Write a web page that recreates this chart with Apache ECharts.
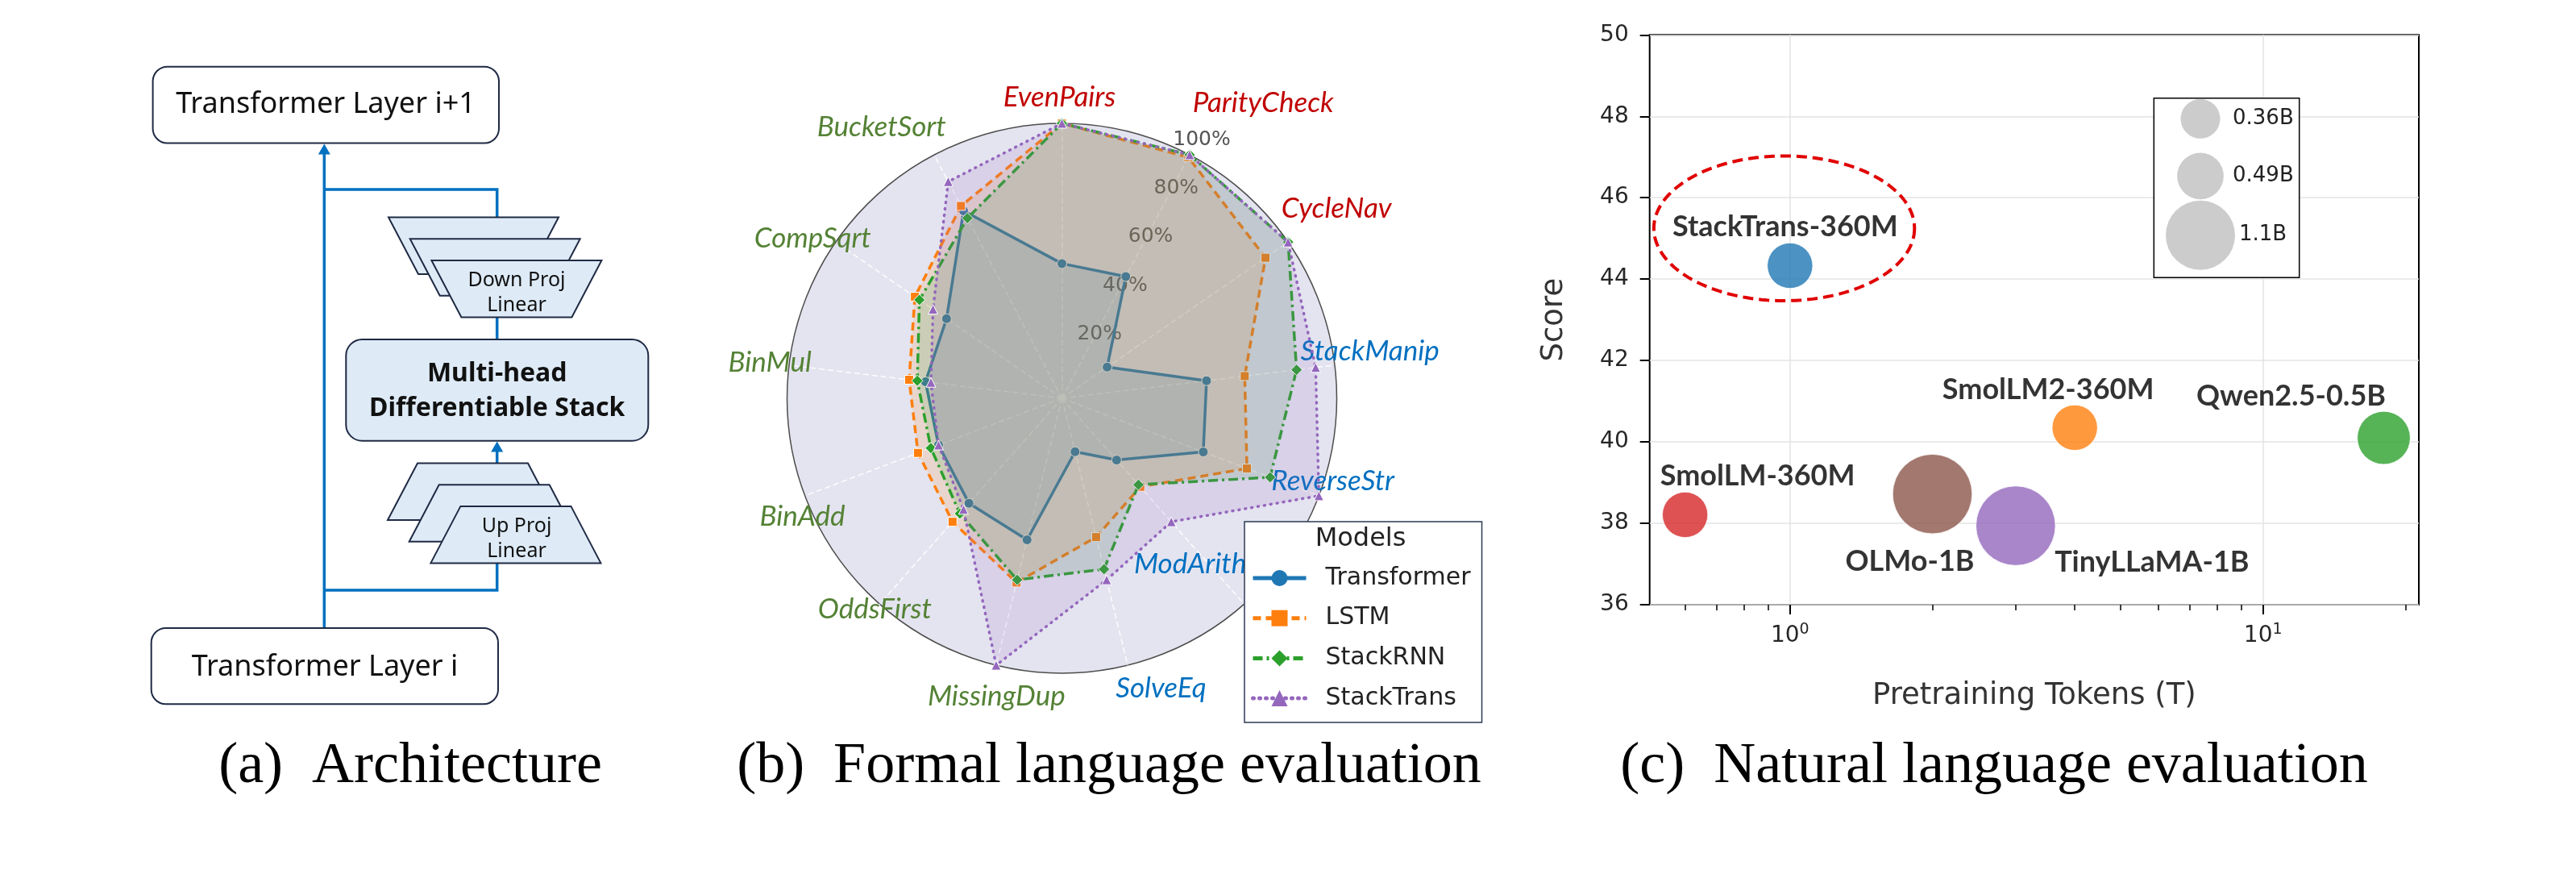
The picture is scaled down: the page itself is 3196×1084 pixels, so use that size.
<!DOCTYPE html>
<html><head><meta charset="utf-8">
<script src="https://cdn.jsdelivr.net/npm/echarts@6/dist/echarts.min.js"></script>
<style>html,body{margin:0;padding:0;background:#fff}#c{width:3196px;height:1084px}</style>
</head><body><div id="c"></div>
<script>
// ---------- Panel (b): formal language radar data ----------
const tasks = ['EvenPairs','ParityCheck','CycleNav','StackManip','ReverseStr','ModArith','SolveEq','MissingDup','OddsFirst','BinAdd','BinMul','CompSqrt','BucketSort'];
const taskGroup = ['r','r','r','b','b','b','b','g','g','g','g','g','g'];
const transformerAcc = [49, 50, 20, 53, 55, 30, 20, 53, 51, 48, 50, 51, 77];
const lstmAcc        = [100, 99, 90, 67, 72, 43, 52, 69, 60, 56, 56, 65, 79];
const stackRnnAcc    = [100, 100, 100, 86, 81, 42, 64, 68, 56, 51, 53, 63, 74];
const stackTransAcc  = [100, 100, 100, 93, 100, 60, 68, 100, 54, 48, 48, 57, 89];
const modelNames = ['Transformer','LSTM','StackRNN','StackTrans'];

// ---------- Panel (c): natural language bubble data ----------
const lmNames  = ['StackTrans-360M','SmolLM-360M','SmolLM2-360M','Qwen2.5-0.5B','OLMo-1B','TinyLLaMA-1B'];
const lmTokens = [1, 0.6, 4, 18, 2, 3];
const lmScores = [44.33, 38.21, 40.35, 40.1, 38.72, 37.94];
const lmParams = [0.36, 0.36, 0.36, 0.49, 1.1, 1.1];
const sizeLegendNames = ['0.36B','0.49B','1.1B'];
const sizeLegendParams = [0.36, 0.49, 1.1];
const xMajorTicks = [1, 10];
const xMinorTicks = [0.6, 0.7, 0.8, 0.9, 2, 3, 4, 5, 6, 7, 8, 9, 20];

// ---------- styles ----------
const groupColor = {r:'#c00000', b:'#0070c0', g:'#548235'};
const modelStyle = [
  {color:'#1f77b4', symbol:'circle',   size:12, dash:'solid', cap:'butt'},
  {color:'#ff7f0e', symbol:'rect',     size:11, dash:[10,6],  cap:'butt'},
  {color:'#2ca02c', symbol:'diamond',  size:14, dash:[12,5,3,5], cap:'butt'},
  {color:'#9467bd', symbol:'triangle', size:12, dash:[1,7],   cap:'round'}
];
// name placement (gap beyond circle, pixel shift) per task
const nameGap   = [32, 92, 73, 46, 10, -80, 39, 40, 9, 13, 24, 25, 63];
const nameShift = [[-3,0],[44,26],[0,0],[-2,-12],[8,-22],[-14,10],[32,-9],[10,2],[0,0],[9,21],[0,0],[-8,10],[-36,21]];
const lmColors = ['#1f77b4','#d62728','#ff7f0e','#2ca02c','#8c564b','#9467bd'];
const lmLabelOffset = [[-6,-48],[90,-48],[-33,-47],[-115,-52],[-28,84],[169,45]];
const bubbleK = 94;

const RC = [1317.5, 494], RR = 341;
// ECharts radar goes counter-clockwise; reference goes clockwise
const order = [0].concat(tasks.map((_, i) => i).slice(1).reverse());
const reorder = arr => order.map(i => arr[i]);

function nameStyleFor(s) {
  const [sx, sy] = s;
  const st = {align:'center', verticalAlign:'middle',
    padding: [0, sx < 0 ? -2*sx : 0, 0, sx > 0 ? 2*sx : 0]};
  if (sy > 2) { st.verticalAlign = 'top'; st.lineHeight = 2*sy; }
  else if (sy < -2) { st.verticalAlign = 'bottom'; st.lineHeight = -2*sy; }
  return st;
}

const indicatorsMain = order.map(i => {
  const ind = {
    name: tasks[i], min: 0, max: 100, color: groupColor[taskGroup[i]],
    nameGap: nameGap[i],
    nameTextStyle: nameStyleFor(nameShift[i])
  };
  if (tasks[i] === 'ParityCheck') {
    ind.axisLabel = {show: true, color:'#555', fontSize: 25, fontFamily:'DejaVu Sans', margin: 0,
      align:'center', verticalAlign:'bottom', lineHeight: 38, padding:[0,0,0,30],
      formatter: v => (v === 0 ? '' : v + '%')};
  }
  return ind;
});
const indicatorsBg = order.map(i => ({name: tasks[i], min: 0, max: 100}));

const accArrays = [transformerAcc, lstmAcc, stackRnnAcc, stackTransAcc];
const radarSeries = modelNames.map((n, k) => ({
  type:'radar', radarIndex: 1, name: n + ' (radar)', z: 3 + k,
  symbol: modelStyle[k].symbol, symbolSize: modelStyle[k].size,
  itemStyle: {color: modelStyle[k].color, borderColor:'#fff', borderWidth: 1},
  lineStyle: {color: modelStyle[k].color, width: 3.5, type: modelStyle[k].dash, cap: modelStyle[k].cap},
  areaStyle: {color: modelStyle[k].color, opacity: 0.15},
  data: [{name: n, value: reorder(accArrays[k])}]
}));
const legendLineSeries = modelNames.map((n, k) => ({
  type:'line', name: n, xAxisIndex: 2, yAxisIndex: 1, data: [],
  symbol: modelStyle[k].symbol, itemStyle: {color: modelStyle[k].color},
  lineStyle: {color: modelStyle[k].color, width: 5, type: modelStyle[k].dash, cap: modelStyle[k].cap}
}));

// ---------- panel (a) diagram graphics ----------
const NAVY = '#1f2a44', FILL = '#deebf7', BLUE = '#0070c0';
const g = [];
function rect(x, y, w, h, r, fill) { g.push({type:'rect', shape:{x, y, width:w, height:h, r}, style:{fill, stroke:NAVY, lineWidth:2}, z: 1}); }
function txt(t, x, y, size, bold) { g.push({type:'text', x, y, style:{text:t, fontSize:size, fontFamily:'Noto Sans', fontWeight: bold ? 'bold':'normal', fill:'#111', align:'center', verticalAlign:'middle'}, z: 3}); }
function wire(pts) { g.push({type:'polyline', shape:{points:pts}, style:{stroke:BLUE, lineWidth:3.5, fill:null}, z: 1}); }
function arrowUp(x, tipY) { g.push({type:'polygon', shape:{points:[[x-7.5, tipY+13],[x+7.5, tipY+13],[x, tipY]]}, style:{fill:BLUE}, z: 2}); }
function trapDown(x, y) { g.push({type:'polygon', shape:{points:[[x,y],[x+211,y],[x+174,y+70.5],[x+37,y+70.5]]}, style:{fill:FILL, stroke:NAVY, lineWidth:2}, z: 2}); }
function trapUp(x, y) { g.push({type:'polygon', shape:{points:[[x+37,y],[x+174,y],[x+211,y+70.5],[x,y+70.5]]}, style:{fill:FILL, stroke:NAVY, lineWidth:2}, z: 2}); }

wire([[402.3, 779],[402.3, 190]]); arrowUp(402.3, 178.5);
wire([[402.3, 235],[616.7, 235],[616.7, 270]]);
wire([[616.7, 393],[616.7, 421]]);
wire([[616.7, 575],[616.7, 559]]); arrowUp(616.7, 547.5);
wire([[616.7, 698],[616.7, 732],[402.3, 732]]);
rect(189.6, 82.7, 429.4, 94.8, 18, '#fff');
rect(187.7, 779, 430.3, 94.3, 18, '#fff');
txt('Transformer Layer i+1', 404, 130, 36, false);
txt('Transformer Layer i', 403, 828, 36, false);
trapDown(482, 269.5); trapDown(508.7, 296.2); trapDown(535.4, 322.9);
txt('Down Proj', 641, 348, 25, false); txt('Linear', 641, 379, 25, false);
rect(429.3, 421, 375, 125.7, 20, FILL);
txt('Multi-head', 616.7, 464, 32, true); txt('Differentiable Stack', 616.7, 507, 32, true);
trapUp(481, 574.5); trapUp(507.7, 601.2); trapUp(534.4, 627.9);
txt('Up Proj', 641, 653, 25, false); txt('Linear', 641, 684, 25, false);

// captions
[['(a)  Architecture', 509], ['(b)  Formal language evaluation', 1376], ['(c)  Natural language evaluation', 2474]].forEach(c => {
  g.push({type:'text', x:c[1], y:951, style:{text:c[0], fontSize:72, fontFamily:'Liberation Serif', fill:'#000', align:'center', verticalAlign:'middle'}, z: 3});
});
// radar legend title
g.push({type:'text', x:1688, y:669, style:{text:'Models', fontSize:32, fontFamily:'DejaVu Sans', fill:'#222', align:'center', verticalAlign:'middle'}, z: 20});
// bubble size legend frame
g.push({type:'rect', shape:{x:2672.3, y:121.7, width:180.4, height:222.6}, style:{fill:'#fff', stroke:'#000', lineWidth:1.5}, z: 3});
// red dashed highlight ellipse
const ell = [];
for (let k = 0; k < 144; k++) { const t = k / 144 * 2 * Math.PI; ell.push([2213.6 + 161.7*Math.cos(t), 283.2 + 89.8*Math.sin(t)]); }
g.push({type:'polygon', shape:{points: ell}, style:{fill:null, stroke:'#e00000', lineWidth:4, lineDash:[13,7]}, z: 6});

// ---------- bubble legends ----------
const legendCircleD = [49, 57.7, 86], legendCircleY = [147.3, 218.3, 291.7];
const sizeLegends = sizeLegendNames.map((n, i) => ({
  data: [n], left: 2730 - legendCircleD[i]/2, top: legendCircleY[i] - legendCircleD[i]/2, padding: 0,
  itemWidth: legendCircleD[i], itemHeight: legendCircleD[i], icon: 'circle', selectedMode: false, z: 5,
  textStyle: {fontSize: 26, fontFamily:'DejaVu Sans', color:'#222', padding:[0,0,0, Math.max(0, 40 - legendCircleD[i]/2 - 5)]}
}));
const sizeLegendSeries = sizeLegendNames.map((n, i) => ({type:'scatter', name:n, xAxisIndex:0, yAxisIndex:0, data:[], symbol:'circle', itemStyle:{color:'#bfbfbf'}}));

const supRich = {b:{fontSize:28, fontFamily:'DejaVu Sans', color:'#262626'}, s:{fontSize:19, fontFamily:'DejaVu Sans', color:'#262626', padding:[0,0,14,0]}};

const option = {
  animation: false,
  backgroundColor: '#fff',
  graphic: {elements: g},
  radar: [
    {center: RC, radius: RR, startAngle: 90, shape:'circle', splitNumber: 1, indicator: indicatorsBg,
     axisName: {show: false}, axisLine: {show: false}, axisTick: {show: false}, axisLabel: {show: false},
     splitLine: {show: true, lineStyle: {color: '#4d4d4d', width: 1.5}},
     splitArea: {show: true, areaStyle: {color: ['#e4e4f0']}}},
    {center: RC, radius: RR, startAngle: 90, shape:'circle', splitNumber: 5, indicator: indicatorsMain,
     axisName: {show: true, fontFamily:'Lato', fontStyle:'italic', fontSize: 35},
     axisLine: {show: true, lineStyle: {color:'rgba(255,255,255,0.9)', width: 1.5, type: [6,5]}},
     axisTick: {show: false}, axisLabel: {show: false},
     splitLine: {show: false}, splitArea: {show: false}}
  ],
  legend: [{
    data: modelNames, orient:'vertical', left: 1544, top: 647, itemWidth: 66, itemHeight: 25, itemGap: 19.7,
    padding: [55, 14, 15, 8], backgroundColor:'#fff', borderColor:'#2b3a55', borderWidth: 1.5, borderRadius: 0,
    selectedMode: false, z: 10,
    textStyle: {fontSize: 30, fontFamily:'DejaVu Sans', color:'#222', padding:[0,0,0,19]},
    lineStyle: {width: 5}
  }].concat(sizeLegends),
  grid: [
    {left: 2046.7, top: 43.3, width: 954.3, height: 706.7, show: true, borderColor:'#000', borderWidth: 2, backgroundColor:'transparent'},
    {left: 0, top: 0, width: 10, height: 10, show: false}
  ],
  xAxis: [
    {type:'log', logBase: 10, gridIndex: 0, min: 0.505, max: 21.35,
     axisLine: {show: false},
     axisTick: {show: true, length: 12, lineStyle: {color:'#000', width: 2}, customValues: xMajorTicks},
     axisLabel: {show: true, customValues: xMajorTicks, margin: 22, rich: supRich,
       formatter: v => '{b|10}{s|' + Math.round(Math.log10(v)) + '}'},
     splitLine: {show: true, lineStyle: {color:'#e3e3e3', width: 1.5}},
     name: 'Pretraining Tokens (T)', nameLocation: 'middle', nameGap: 95,
     nameTextStyle: {fontSize: 37, fontFamily:'DejaVu Sans', color:'#333'}},
    {type:'log', logBase: 10, gridIndex: 0, min: 0.505, max: 21.35, position:'bottom',
     axisLine: {show: false}, axisLabel: {show: false}, splitLine: {show: false},
     axisTick: {show: true, length: 7, lineStyle: {color:'#000', width: 1.5}, customValues: xMinorTicks}},
    {type:'value', gridIndex: 1, show: false}
  ],
  yAxis: [
    {type:'value', gridIndex: 0, min: 36, max: 50, interval: 2,
     axisLine: {show: false},
     axisTick: {show: true, length: 12, lineStyle: {color:'#000', width: 2}},
     axisLabel: {fontSize: 28, fontFamily:'DejaVu Sans', color:'#262626', margin: 26},
     splitLine: {show: true, lineStyle: {color:'#e3e3e3', width: 1.5}},
     name: 'Score', nameLocation: 'middle', nameGap: 100,
     nameTextStyle: {fontSize: 37, fontFamily:'DejaVu Sans', color:'#333'}},
    {type:'value', gridIndex: 1, show: false}
  ],
  series: radarSeries.concat(legendLineSeries).concat([{
    type:'scatter', name:'models', xAxisIndex: 0, yAxisIndex: 0, z: 4,
    symbol:'circle',
    symbolSize: v => bubbleK * Math.sqrt(v[2]),
    itemStyle: {opacity: 0.8, borderColor:'#fff', borderWidth: 1},
    label: {show: true, position:'inside', formatter:'{b}', fontFamily:'Lato', fontWeight:'bold', fontSize: 36, color:'#000'},
    data: lmNames.map((n, i) => ({name: n, value: [lmTokens[i], lmScores[i], lmParams[i]],
      itemStyle: {color: lmColors[i]}, label: {offset: lmLabelOffset[i]}}))
  }]).concat(sizeLegendSeries)
};

const chart = echarts.init(document.getElementById('c'), null, {renderer:'canvas'});
chart.setOption(option);
</script>
</body></html>
